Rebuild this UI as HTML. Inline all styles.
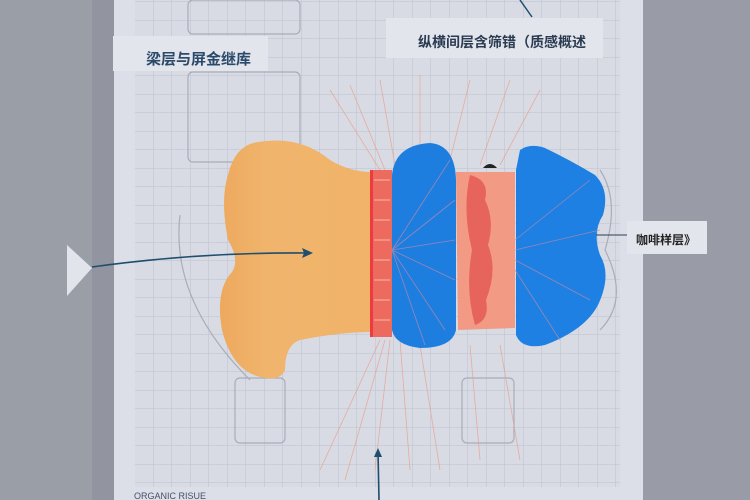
<!DOCTYPE html>
<html><head><meta charset="utf-8"><style>
html,body{margin:0;padding:0;width:750px;height:500px;overflow:hidden;background:#9b9fa8;}
svg{display:block}
text{font-family:"Liberation Sans","Noto Sans CJK SC",sans-serif;}
</style></head><body>
<svg width="750" height="500" viewBox="0 0 750 500" xmlns="http://www.w3.org/2000/svg">
<defs>
<pattern id="g" width="18.5" height="18.5" patternUnits="userSpaceOnUse" x="135" y="2">
<path d="M18.5 0V18.5H0" fill="none" stroke="#bcc0cb" stroke-width="1"/>
</pattern>
<linearGradient id="or" x1="0" x2="1"><stop offset="0" stop-color="#eda95e"/><stop offset="0.3" stop-color="#f0b46c"/><stop offset="1" stop-color="#f1b36a"/></linearGradient>
</defs>
<rect x="0" y="0" width="92" height="500" fill="#9a9ea7"/>
<rect x="92" y="0" width="22" height="500" fill="#9294a0"/>
<rect x="114" y="0" width="529" height="500" fill="#dcdfe7"/>
<rect x="643" y="0" width="107" height="500" fill="#999ca6"/>
<rect x="135" y="0" width="485" height="487" fill="#d8dbe4"/>
<rect x="135" y="0" width="485" height="487" fill="url(#g)"/>
<g fill="none" stroke="#a9adb8" stroke-width="1.2">
<rect x="188" y="0" width="112" height="34" rx="5"/>
<rect x="188" y="72" width="112" height="90" rx="5"/>
<rect x="235" y="378" width="50" height="65" rx="5"/>
<rect x="462" y="378" width="52" height="65" rx="5"/>
<path d="M180 215 Q170 300 250 380"/>
<path d="M600 170 Q620 200 605 250 Q630 300 600 330"/>
</g>
<g stroke="#eaa08e" stroke-width="0.8" opacity="0.8" fill="none">
<path d="M380 170 L330 90"/><path d="M385 170 L350 85"/><path d="M395 165 L380 80"/><path d="M420 160 L420 75"/><path d="M450 160 L470 80"/><path d="M480 165 L510 80"/><path d="M500 165 L540 90"/>
<path d="M380 340 L320 470"/><path d="M385 340 L345 480"/><path d="M390 340 L375 470"/><path d="M400 340 L410 470"/><path d="M420 345 L440 470"/><path d="M470 345 L480 460"/><path d="M500 345 L520 460"/>
</g>
<path d="M258 142 Q300 135 330 160 Q350 172 372 172 L372 332 Q340 332 300 340 Q285 345 285 370 Q280 382 260 377 Q232 370 222 330 Q215 290 232 272 Q240 260 228 240 Q220 200 228 175 Q235 145 258 142Z" fill="url(#or)"/>
<rect x="370" y="170" width="22" height="167" fill="#ec6a5e"/>
<g stroke="#f4a08e" stroke-width="1.5"><path d="M374 180H390M374 200H390M374 220H390M374 240H390M374 260H390M374 280H390M374 300H390M374 320H390"/></g>
<rect x="370" y="170" width="3" height="167" fill="#ee3b3f"/>
<path d="M392 175 Q395 145 430 143 Q455 145 456 180 L456 330 Q452 348 420 348 Q395 345 392 330Z" fill="#1e7ee0"/>
<path d="M456 172 L515 172 L515 328 L458 330Z" fill="#f29a84"/>
<path d="M470 175 Q490 180 485 200 Q495 220 488 245 Q498 270 486 300 Q490 320 475 325 Q465 290 472 250 Q462 210 470 175Z" fill="#e2524f" opacity="0.75"/>
<path d="M483 168 Q490 160 497 168Z" fill="#222"/>
<path d="M520 150 Q530 143 545 148 Q570 160 595 175 Q610 190 603 215 Q592 232 600 255 Q612 275 598 305 Q585 330 545 345 Q522 350 516 335 L516 170Z" fill="#1e80e2"/>
<g stroke="#c98aa0" stroke-width="0.8" opacity="0.7">
<path d="M392 250 L450 160"/><path d="M392 250 L455 200"/><path d="M392 250 L455 240"/><path d="M392 250 L455 280"/><path d="M392 250 L445 330"/><path d="M392 250 L425 345"/>
<path d="M515 240 L590 180"/><path d="M515 250 L600 230"/><path d="M515 260 L590 300"/><path d="M515 270 L560 340"/>
</g>
<rect x="113" y="36" width="155" height="35" fill="#e3e5ec"/>
<text x="146" y="64" font-size="15" font-weight="bold" fill="#2a4a6a">梁层与屏金继库</text>
<rect x="386" y="18" width="217" height="40" fill="#e3e5ec"/>
<text x="418" y="47" font-size="14" font-weight="bold" fill="#2a3a50">纵横间层含筛错（质感概述</text>
<line x1="520" y1="0" x2="532" y2="17" stroke="#1f4e6e" stroke-width="1.5"/>
<rect x="627" y="221" width="80" height="33" fill="#e3e5ec"/>
<text x="636" y="244" font-size="12" font-weight="bold" fill="#222">咖啡样层》</text>
<line x1="596" y1="235" x2="627" y2="235" stroke="#2a4050" stroke-width="1"/>
<path d="M67 245 L92 268 L67 296Z" fill="#e2e4ec"/>
<path d="M92 267 Q200 252 310 253" fill="none" stroke="#1f4e6e" stroke-width="1.6"/>
<path d="M313 253 L302 248 L304 253 L302 258Z" fill="#1f4e6e"/>
<path d="M379 500 L378 452" fill="none" stroke="#1f4e6e" stroke-width="1.6"/>
<path d="M378 448 L374 457 L382 457Z" fill="#1f4e6e"/>
<text x="134" y="499" font-size="9" fill="#44506a" font-family="Liberation Serif, serif">ORGANIC RISUE</text>
</svg>
</body></html>
